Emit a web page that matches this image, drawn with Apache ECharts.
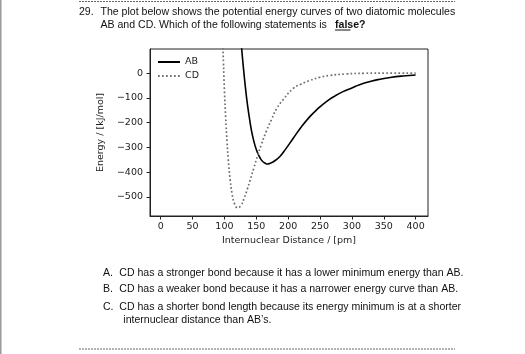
<!DOCTYPE html>
<html>
<head>
<meta charset="utf-8">
<script src="https://cdn.jsdelivr.net/npm/echarts@6/dist/echarts.min.js"></script>
<style>
  html, body { margin: 0; padding: 0; background: #fff; }
  #chart { width: 525px; height: 354px; }
</style>
</head>
<body>
<div id="chart"></div>
<script>
// curve AB (solid): distance in pm, energy in kJ/mol
const abDistance = [124, 127, 130, 133, 136, 140, 144, 148, 152, 156, 160, 164, 167, 172, 178, 187, 196, 208, 220, 234, 247, 260, 273, 286, 300, 312, 330, 344, 360, 380, 400];
const abEnergy = [200, 100, 15, -60, -125, -195, -252, -293, -322, -343, -357, -364, -367, -364, -356, -337, -307, -263, -220, -176, -143, -115, -93, -75, -60, -47, -33, -25, -18, -12, -8];

// curve CD (dotted)
const cdDistance = [95, 97.5, 100, 102, 104, 106, 109, 112, 116, 121, 126, 131, 136, 140, 146, 152, 158, 166, 174, 182, 192, 208, 220, 234, 250, 265, 290, 320, 360, 400];
const cdEnergy = [200, 100, -71, -182, -274, -348, -431, -487, -529, -544, -534, -505, -468, -435, -384, -334, -288, -233, -187, -143, -108, -62, -45, -30, -17, -10, -4, -1, 0, 0];

const seriesNames = ["AB", "CD"];
const xTicks = [0, 50, 100, 150, 200, 250, 300, 350, 400];
const yTicks = [-500, -400, -300, -200, -100, 0];

const zip = (xs, ys) => xs.map((x, i) => [x, ys[i]]);
const minus = v => String(v).replace("-", "\u2212");

const chart = echarts.init(document.getElementById("chart"));

const textFont = '10.55px "Liberation Sans", Arial, sans-serif';
const plotFont = '"DejaVu Sans", sans-serif';

const option = {
  animation: false,
  backgroundColor: "#fff",
  grid: {
    left: 150,
    right: 97,
    top: 49,
    bottom: 138,
    show: true,
    borderColor: "#222",
    borderWidth: 1
  },
  legend: {
    data: seriesNames,
    orient: "vertical",
    left: 157,
    top: 57,
    padding: 0,
    itemWidth: 22,
    itemHeight: 10,
    itemGap: 4,
    itemStyle: { opacity: 0 },
    textStyle: { fontFamily: plotFont, fontSize: 9.5, color: "#222" }
  },
  xAxis: {
    type: "value",
    min: -16.8,
    max: 419.4,
    name: "Internuclear Distance / [pm]",
    nameLocation: "middle",
    nameGap: 20,
    nameTextStyle: { fontFamily: plotFont, fontSize: 9.5, color: "#222" },
    axisLine: { show: true, onZero: false, lineStyle: { color: "#222" } },
    axisTick: { show: true, length: 3.5, customValues: xTicks, lineStyle: { color: "#222" } },
    axisLabel: { customValues: xTicks, margin: 6, fontFamily: plotFont, fontSize: 9.5, color: "#222" },
    splitLine: { show: false }
  },
  yAxis: {
    type: "value",
    min: -577,
    max: 97,
    name: "Energy / [kJ/mol]",
    nameLocation: "middle",
    nameRotate: 90,
    nameGap: 32,
    nameTextStyle: { fontFamily: plotFont, fontSize: 9.5, color: "#222" },
    axisLine: { show: true, onZero: false, lineStyle: { color: "#222" } },
    axisTick: { show: true, length: 3.5, customValues: yTicks, lineStyle: { color: "#222" } },
    axisLabel: {
      customValues: yTicks,
      margin: 7,
      fontFamily: plotFont,
      fontSize: 9.5,
      color: "#222",
      formatter: minus
    },
    splitLine: { show: false }
  },
  series: [
    {
      name: "AB",
      type: "line",
      data: zip(abDistance, abEnergy),
      smooth: 0.5,
      symbol: "none",
      clip: true,
      color: "#000",
      lineStyle: { color: "#000", width: 1.6 }
    },
    {
      name: "CD",
      type: "line",
      data: zip(cdDistance, cdEnergy),
      smooth: 0.5,
      symbol: "none",
      clip: true,
      color: "#6e6e6e",
      lineStyle: { color: "#6e6e6e", width: 1.7, type: [1.7, 2.3] }
    }
  ],
  graphic: [
    // page edges
    { type: "rect", shape: { x: 0, y: 0, width: 1.5, height: 354 }, style: { fill: "#9a9a9a" } },
    { type: "line", shape: { x1: 79, y1: 1.5, x2: 455, y2: 1.5 }, style: { stroke: "#666", lineWidth: 1, lineDash: [2, 1] } },
    { type: "line", shape: { x1: 79, y1: 349, x2: 455, y2: 349 }, style: { stroke: "#666", lineWidth: 1, lineDash: [2, 1] } },
    // question
    { type: "text", x: 79, y: 12, style: { text: "29.", font: textFont, fill: "#111", verticalAlign: "middle" } },
    { type: "text", x: 100.5, y: 12, style: { text: "The plot below shows the potential energy curves of two diatomic molecules", font: textFont, fill: "#111", verticalAlign: "middle" } },
    { type: "text", x: 100.5, y: 25.5, style: { text: "AB and CD. Which of the following statements is", font: textFont, fill: "#111", verticalAlign: "middle" } },
    { type: "text", x: 335, y: 25.5, style: { text: "false?", font: "bold " + textFont, fill: "#111", verticalAlign: "middle" } },
    { type: "line", shape: { x1: 335, y1: 30, x2: 350.5, y2: 30 }, style: { stroke: "#111", lineWidth: 1 } },
    // answers
    { type: "text", x: 103, y: 272.7, style: { text: "A.", font: textFont, fill: "#111", verticalAlign: "middle" } },
    { type: "text", x: 119.3, y: 272.7, style: { text: "CD has a stronger bond because it has a lower minimum energy than AB.", font: textFont, fill: "#111", verticalAlign: "middle" } },
    { type: "text", x: 103, y: 289.5, style: { text: "B.", font: textFont, fill: "#111", verticalAlign: "middle" } },
    { type: "text", x: 119.3, y: 289.5, style: { text: "CD has a weaker bond because it has a narrower energy curve than AB.", font: textFont, fill: "#111", verticalAlign: "middle" } },
    { type: "text", x: 103, y: 307, style: { text: "C.", font: textFont, fill: "#111", verticalAlign: "middle" } },
    { type: "text", x: 119.3, y: 307, style: { text: "CD has a shorter bond length because its energy minimum is at a shorter", font: textFont, fill: "#111", verticalAlign: "middle" } },
    { type: "text", x: 123.3, y: 320.5, style: { text: "internuclear distance than AB\u2019s.", font: textFont, fill: "#111", verticalAlign: "middle" } }
  ]
};

chart.setOption(option);
</script>
</body>
</html>
